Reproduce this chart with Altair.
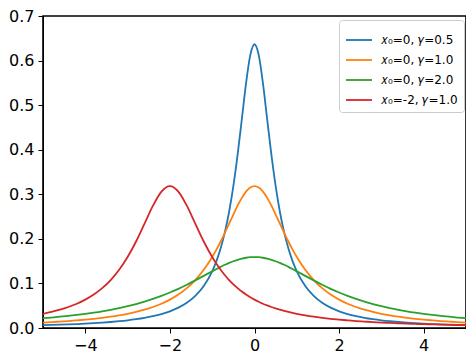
import altair as alt
import pandas as pd

x_vals = [-5.0, -4.8, -4.6, -4.4, -4.2, -4.0, -3.8, -3.6, -3.4, -3.2, -3.0, -2.8, -2.6, -2.4, -2.2,
          -2.0, -1.8, -1.6, -1.4, -1.2, -1.0, -0.9, -0.8, -0.7, -0.6, -0.5, -0.4, -0.3, -0.2, -0.1,
          0.0, 0.1, 0.2, 0.3, 0.4, 0.5, 0.6, 0.7, 0.8, 0.9, 1.0, 1.2, 1.4, 1.6, 1.8, 2.0, 2.2, 2.4,
          2.6, 2.8, 3.0, 3.2, 3.4, 3.6, 3.8, 4.0, 4.2, 4.4, 4.6, 4.8, 5.0]

y_g05 = [0.0063, 0.0068, 0.0074, 0.0081, 0.0089, 0.0098, 0.0108, 0.0120, 0.0135, 0.0152, 0.0172,
         0.0197, 0.0227, 0.0265, 0.0313, 0.0374, 0.0456, 0.0566, 0.0720, 0.0942, 0.1273, 0.1501,
         0.1788, 0.2151, 0.2609, 0.3183, 0.3882, 0.4681, 0.5488, 0.6121, 0.6366, 0.6121, 0.5488,
         0.4681, 0.3882, 0.3183, 0.2609, 0.2151, 0.1788, 0.1501, 0.1273, 0.0942, 0.0720, 0.0566,
         0.0456, 0.0374, 0.0313, 0.0265, 0.0227, 0.0197, 0.0172, 0.0152, 0.0135, 0.0120, 0.0108,
         0.0098, 0.0089, 0.0081, 0.0074, 0.0068, 0.0063]

y_g10 = [0.0122, 0.0132, 0.0144, 0.0156, 0.0171, 0.0187, 0.0206, 0.0228, 0.0253, 0.0283, 0.0318,
         0.0360, 0.0410, 0.0471, 0.0545, 0.0637, 0.0751, 0.0894, 0.1075, 0.1305, 0.1592, 0.1759,
         0.1941, 0.2136, 0.2341, 0.2546, 0.2744, 0.2920, 0.3061, 0.3152, 0.3183, 0.3152, 0.3061,
         0.2920, 0.2744, 0.2546, 0.2341, 0.2136, 0.1941, 0.1759, 0.1592, 0.1305, 0.1075, 0.0894,
         0.0751, 0.0637, 0.0545, 0.0471, 0.0410, 0.0360, 0.0318, 0.0283, 0.0253, 0.0228, 0.0206,
         0.0187, 0.0171, 0.0156, 0.0144, 0.0132, 0.0122]

y_g20 = [0.0220, 0.0235, 0.0253, 0.0273, 0.0294, 0.0318, 0.0345, 0.0375, 0.0409, 0.0447, 0.0490,
         0.0538, 0.0592, 0.0652, 0.0720, 0.0796, 0.0879, 0.0970, 0.1068, 0.1170, 0.1273, 0.1324,
         0.1372, 0.1418, 0.1460, 0.1498, 0.1530, 0.1557, 0.1576, 0.1588, 0.1592, 0.1588, 0.1576,
         0.1557, 0.1530, 0.1498, 0.1460, 0.1418, 0.1372, 0.1324, 0.1273, 0.1170, 0.1068, 0.0970,
         0.0879, 0.0796, 0.0720, 0.0652, 0.0592, 0.0538, 0.0490, 0.0447, 0.0409, 0.0375, 0.0345,
         0.0318, 0.0294, 0.0273, 0.0253, 0.0235, 0.0220]

y_m2 = [0.0318, 0.0360, 0.0410, 0.0471, 0.0545, 0.0637, 0.0751, 0.0894, 0.1075, 0.1305, 0.1592,
        0.1941, 0.2341, 0.2744, 0.3061, 0.3183, 0.3061, 0.2744, 0.2341, 0.1941, 0.1592, 0.1440,
        0.1305, 0.1183, 0.1075, 0.0979, 0.0894, 0.0818, 0.0751, 0.0690, 0.0637, 0.0588, 0.0545,
        0.0506, 0.0471, 0.0439, 0.0410, 0.0384, 0.0360, 0.0338, 0.0318, 0.0283, 0.0253, 0.0228,
        0.0206, 0.0187, 0.0171, 0.0156, 0.0144, 0.0132, 0.0122, 0.0114, 0.0106, 0.0098, 0.0092,
        0.0086, 0.0081, 0.0076, 0.0071, 0.0067, 0.0064]

labels = ["𝑥₀=0, 𝛾=0.5", "𝑥₀=0, 𝛾=1.0", "𝑥₀=0, 𝛾=2.0", "𝑥₀=-2, 𝛾=1.0"]
colors = ["#1f77b4", "#ff7f0e", "#2ca02c", "#d62728"]
series = [y_g05, y_g10, y_g20, y_m2]

rows = []
for lab, ys in zip(labels, series):
    for xv, yv in zip(x_vals, ys):
        rows.append({"x": xv, "y": yv, "s": lab})
df = pd.DataFrame(rows)

font = "DejaVu Sans"
W, H = 423, 312

chart = alt.Chart(df).mark_line(strokeWidth=1.8, clip=True, interpolate="monotone").encode(
    x=alt.X("x:Q", scale=alt.Scale(domain=[-5, 5], nice=False, zero=False),
            axis=alt.Axis(values=[-4, -2, 0, 2, 4], title=None, grid=False, format="d",
                          labelFontSize=16, labelFont=font, labelColor="black",
                          tickColor="black", tickSize=5, tickWidth=1,
                          domainColor="black", domainWidth=1, labelPadding=4)),
    y=alt.Y("y:Q", scale=alt.Scale(domain=[0, 0.7], nice=False),
            axis=alt.Axis(values=[0, 0.1, 0.2, 0.3, 0.4, 0.5, 0.6, 0.7], title=None, grid=False,
                          format=".1f", labelFontSize=16, labelFont=font, labelColor="black",
                          tickColor="black", tickSize=5, tickWidth=1,
                          domainColor="black", domainWidth=1, labelPadding=4)),
    color=alt.Color("s:N", scale=alt.Scale(domain=labels, range=colors),
                    legend=alt.Legend(title=None, orient="none", legendX=296, legendY=4,
                                      symbolType="stroke", symbolSize=676, symbolStrokeWidth=1.8,
                                      labelFont=font, labelFontSize=12, labelColor="black",
                                      strokeColor="#cccccc", fillColor="white", cornerRadius=3,
                                      padding=6, rowPadding=-6, labelOffset=8)),
    order=alt.Order("x:Q"),
).properties(
    width=W, height=H,
    autosize=alt.AutoSizeParams(type="none"),
    padding={"left": 35, "top": 8, "right": 0, "bottom": 26},
).configure(background="white", view=alt.ViewConfig(stroke="#000000", strokeWidth=1.6))

chart.save("out.html", embed_options={"renderer": "svg", "actions": False})
